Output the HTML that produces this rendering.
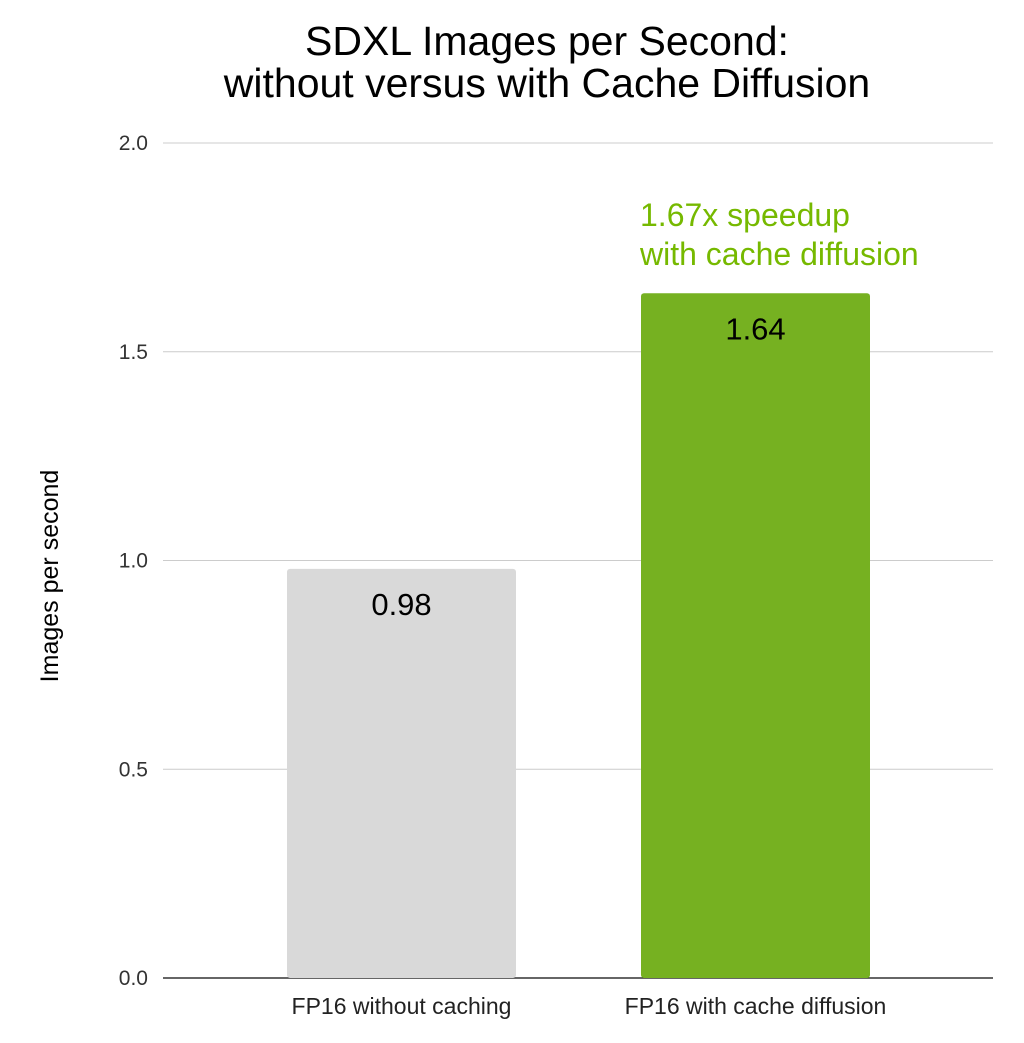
<!DOCTYPE html>
<html><head><meta charset="utf-8"><style>
body{margin:0;background:#fff;}
svg{display:block;font-family:"Liberation Sans",Arial,sans-serif;}
</style></head><body>
<svg id="chart" width="1024" height="1043">
<text x="547" y="55" text-anchor="middle" font-size="41" fill="#000">SDXL Images per Second:</text>
<text x="547" y="97" text-anchor="middle" font-size="41" fill="#000">without versus with Cache Diffusion</text>
<text transform="translate(58,576) rotate(-90)" text-anchor="middle" font-size="25" fill="#000">Images per second</text>
<g id="grid"></g><g id="bars"></g>
<text x="640" y="226" font-size="32" fill="#76b900">1.67x speedup</text>
<text x="640" y="265" font-size="32" fill="#76b900">with cache diffusion</text>
</svg>
<script>
const categories=["FP16 without caching","FP16 with cache diffusion"];
const values=[0.98,1.64];
const valueLabels=["0.98","1.64"];
const ticks=[0,0.5,1.0,1.5,2.0];
const tickLabels=["0.0","0.5","1.0","1.5","2.0"];
const colors=["#d9d9d9","#76b121"];
const NS="http://www.w3.org/2000/svg";
const x0=163,x1=993,yB=978,yT=143,vmax=2;
const y=v=>yB-(v/vmax)*(yB-yT);
const xc=i=>401.5+i*354;
function mk(t,a,p){const e=document.createElementNS(NS,t);for(const k in a)e.setAttribute(k,a[k]);p.appendChild(e);return e;}
const g=document.getElementById('grid'),b=document.getElementById('bars');
ticks.forEach((t,i)=>{
 const l=mk('line',{x1:x0,x2:x1,y1:y(t),y2:y(t),stroke:i==0?'#333':'#ccc','stroke-width':i==0?1.5:1},g);
 
 
 const tx=mk('text',{x:148,y:y(t)+7,'text-anchor':'end','font-size':21,fill:'#333'},g);
 tx.textContent=tickLabels[i];
 
 
});
categories.forEach((c,i)=>{
 const bw=229,bx=xc(i)-bw/2;
 const r=mk('rect',{x:bx,y:y(values[i]),width:bw,height:yB-y(values[i]),fill:colors[i],rx:3},b);
 
 
 const vl=mk('text',{x:xc(i),y:y(values[i])+46,'text-anchor':'middle','font-size':31,fill:'#000'},b);
 vl.textContent=valueLabels[i];
 
 
 const xl=mk('text',{x:xc(i),y:1014,'text-anchor':'middle','font-size':23,fill:'#222'},b);
 xl.textContent=c;
 
 
});
</script>
</body></html>
